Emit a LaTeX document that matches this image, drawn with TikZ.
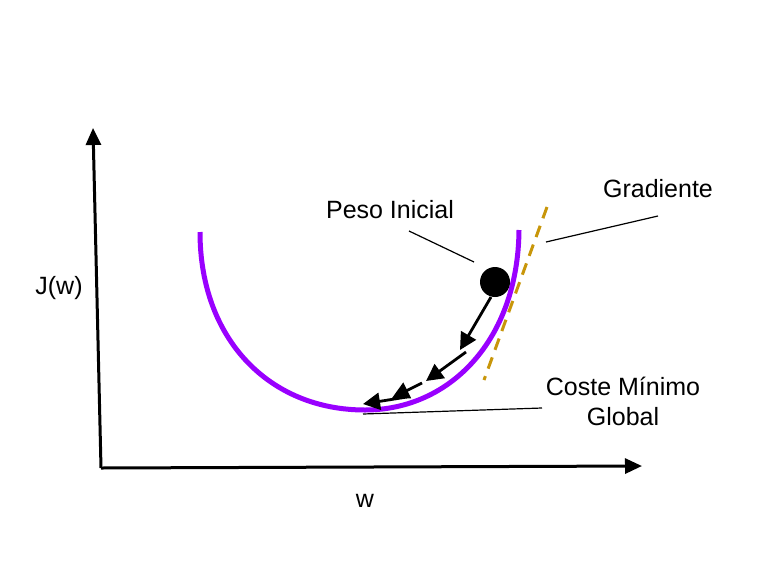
\documentclass[tikz,border=0pt]{standalone}
\usepackage{fontspec}
\setmainfont{Liberation Sans}
\usepackage{xcolor}
\usetikzlibrary{arrows.meta, positioning}

\definecolor{curvepurple}{HTML}{9900FF}
\definecolor{gradgold}{HTML}{C8960A}

\begin{document}
\begin{tikzpicture}[
        x=1pt, y=-1pt,
        every node/.style={font=\fontsize{25}{30}\selectfont},
        axis/.style={line width=3pt, -{Triangle[length=17pt, width=15pt]}},
        cost/.style={line width=5pt, draw=curvepurple},
        gradline/.style={line width=3pt, draw=gradgold, dash pattern=on 12pt off 8pt},
        stepline/.style={line width=2.8pt, -{Triangle[length=17pt, width=17pt]}},
        leader/.style={line width=1.2pt},
        label/.style={align=center, inner sep=0pt}
        ]
        \useasboundingbox (0,0) rectangle (768,576);

        % axes
        \coordinate (origin) at (101,468);
        \coordinate (ytop) at (93,128);
        \coordinate (xend) at (642,466);
        \draw [axis] (origin) -- (ytop);
        \draw [axis] (origin) -- (xend);
        \node (jw) [label] at (59,288) {J(w)};
        \node (w) [label] at (365,501) {w};

        % cost curve
        \coordinate (cleft) at (200,232);
        \coordinate (cmin) at (365,410);
        \coordinate (cright) at (519,230);
        \draw [cost] (cleft) .. controls (200,340) and (270,410) .. (cmin)
                     .. controls (450,410) and (518,340) .. (cright);

        % tangent
        \coordinate (gtop) at (547,207);
        \coordinate (gbot) at (484,380);
        \draw [gradline] (gtop) -- (gbot);

        % initial weight and steps
        \node (ball) [circle, fill=black, minimum size=30pt, inner sep=0pt] at (495,282) {};
        \foreach \xa/\ya/\xb/\yb [count=\i] in {491/297/460/350, 466/352/426/381,
                                                422/383/392/398, 407/397/363/404} {
            \coordinate (step\i-from) at (\xa,\ya);
            \coordinate (step\i-to) at (\xb,\yb);
            \draw [stepline] (step\i-from) -- (step\i-to);
        }

        % labels
        \node (peso) [label] at (390,210) {Peso Inicial};
        \node (grad) [label] at (658,189) {Gradiente};
        \node (coste) [label] at (623,401) {Coste Mínimo\\Global};

        \coordinate (pesoA) at (409,231);
        \coordinate (pesoB) at (474,262);
        \coordinate (gradA) at (658,216);
        \coordinate (gradB) at (546,242);
        \coordinate (costeA) at (542,408);
        \coordinate (costeB) at (363,414);
        \draw [leader] (pesoA) -- (pesoB);
        \draw [leader] (gradA) -- (gradB);
        \draw [leader] (costeA) -- (costeB);

    \end{tikzpicture}
\end{document}
